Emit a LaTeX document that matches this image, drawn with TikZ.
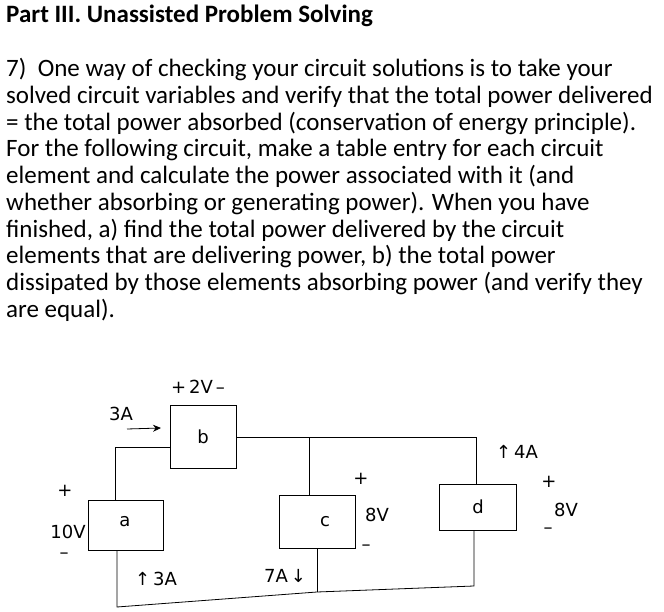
\documentclass[tikz,border=0pt]{standalone}
\usepackage{fontspec}
\usetikzlibrary{arrows.meta}
\setmainfont{Carlito}
\newfontfamily\handfont{DejaVu Sans}
\begin{document}
\begin{tikzpicture}[x=1pt,y=-1pt,
    textline/.style={anchor=west,inner sep=0pt,font=\fontsize{25}{28}\selectfont},
    elem/.style={draw,thick,inner sep=0pt,font=\handfont\fontsize{18}{20}\selectfont},
    hand/.style={inner sep=0pt,font=\handfont\fontsize{18}{20}\selectfont},
    wire/.style={thick}]
  \useasboundingbox (0,0) rectangle (664,612);
  \node[textline,font=\bfseries\fontsize{25}{28}\selectfont] (title) at (6,16) {Part III. Unassisted Problem Solving};
  \foreach \t [count=\i] in {%
    {7)\ \ One way of checking your circuit solutions is to take your},
    {solved circuit variables and verify that the total power delivered},
    {= the total power absorbed (conservation of energy principle).},
    {For the following circuit, make a table entry for each circuit},
    {element and calculate the power associated with it (and},
    {whether absorbing or generating power). When you have},
    {finished, a) find the total power delivered by the circuit},
    {elements that are delivering power, b) the total power},
    {dissipated by those elements absorbing power (and verify they},
    {are equal).}}
    \node[textline] (line\i) at (6,{70+(\i-1)*26.7}) {\t};
  % circuit elements
  \node[elem,minimum width=66pt,minimum height=63pt] (b) at (203,437) {b};
  \node[elem,minimum width=75pt,minimum height=50pt] (a) at (126,525) {};
  \node[hand] (alab) at (125,522) {a};
  \node[elem,minimum width=76pt,minimum height=53pt] (c) at (317,522) {};
  \node[hand] (clab) at (325,522) {c};
  \node[elem,minimum width=77pt,minimum height=46pt] (d) at (478,507) {d};
  % wires
  \coordinate (tl) at (115,447);
  \coordinate (tr) at (476,437);
  \coordinate (cw) at (309,437);
  \coordinate (bl) at (117,607);
  \coordinate (bm) at (317,592);
  \coordinate (br) at (474,586);
  \draw[wire] (b.west |- tl) -- (tl) -- (tl |- a.north);
  \draw[wire] (b.east |- tr) -- (tr) -- (tr |- d.north);
  \draw[wire] (cw) -- (cw |- c.north);
  \draw[wire] (bl |- a.south) -- (bl) -- (bm) -- (br) -- (br |- d.south);
  \draw[wire] (bm) -- (bm |- c.south);
  % labels
  \node[hand] (v2) at (198,387) {+\,2V\,–};
  \node[hand] (i3top) at (121,414) {3A};
  \coordinate (arr1) at (127,429);
  \coordinate (arr2) at (161,428);
  \draw[thick,-{Stealth[length=8pt,width=7pt]}] (arr1) -- (arr2);
  \node[hand] (pa) at (65,491) {+};
  \node[hand] (va) at (68,532) {10V};
  \node[hand] (ma) at (64,556) {–};
  \node[hand] (i3) at (156,579) {↑\,3A};
  \node[hand] (i7) at (285,576) {7A\,↓};
  \node[hand] (pc) at (361,479) {+};
  \node[hand] (vc) at (377,515) {8V};
  \node[hand] (mc) at (366,548) {–};
  \node[hand] (i4) at (517,452) {↑\,4A};
  \node[hand] (pd) at (549,482) {+};
  \node[hand] (vd) at (566,510) {8V};
  \node[hand] (md) at (548,531) {–};
\end{tikzpicture}
\end{document}
